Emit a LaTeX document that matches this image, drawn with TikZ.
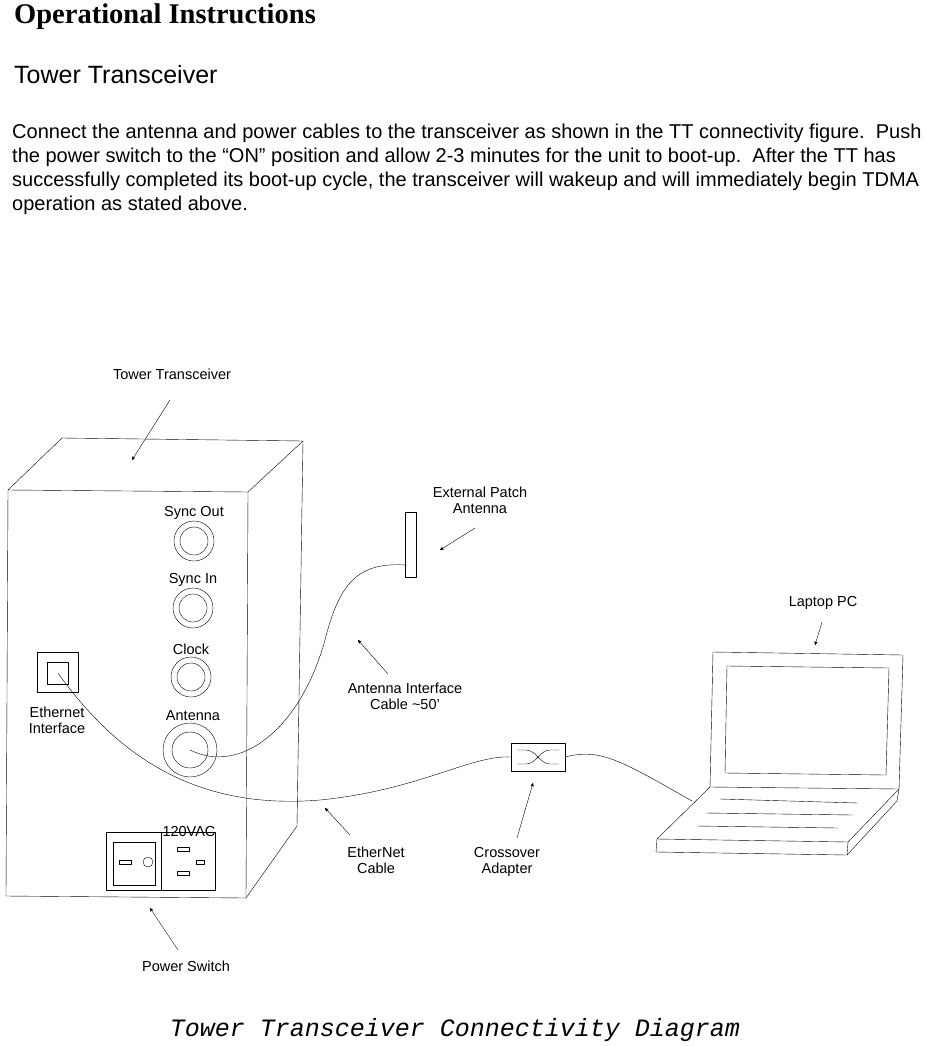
\documentclass[tikz,border=0pt]{standalone}
\usepackage{fontspec}
\setmainfont{Liberation Sans}
\newfontfamily\serifbody{Liberation Serif}
\newfontfamily\monobody{Liberation Mono}
\usetikzlibrary{positioning, arrows}
\tikzset{
>=stealth', % bold arrow heads
lbl/.style={font=\fontsize{14.5}{16}\selectfont, align=center, inner sep=1pt}, % small labels
txt/.style={font=\fontsize{20}{22}\selectfont, anchor=west, inner sep=0pt}, % body lines
pointer/.style={->, thin},
cable/.style={thin},
jack/.style={thin},
}
\begin{document}
\begin{tikzpicture}[x=1pt, y=-1pt, line join=round]
\useasboundingbox (0,0) rectangle (926,1046);
% heading and text
\node[anchor=west, inner sep=0pt, font=\serifbody\bfseries\fontsize{28.5}{30}\selectfont] (title) at (14,17) {Operational Instructions};
\node[txt, font=\fontsize{25}{27}\selectfont] (sub) at (14,75) {Tower Transceiver};
\node[txt] (l1) at (12,133) {Connect the antenna and power cables to the transceiver as shown in the TT connectivity figure.\ \ Push};
\node[txt] (l2) at (12,157) {the power switch to the ``ON'' position and allow 2-3 minutes for the unit to boot-up.\ \ After the TT has};
\node[txt] (l3) at (12,181) {successfully completed its boot-up cycle, the transceiver will wakeup and will immediately begin TDMA};
\node[txt] (l4) at (12,205) {operation as stated above.};
% tower transceiver box
\coordinate (ftl) at (8,490); \coordinate (ftr) at (248,492);
\coordinate (fbr) at (246,898); \coordinate (fbl) at (6,896);
\coordinate (btl) at (62,438); \coordinate (btr) at (303,441); \coordinate (bbr) at (297,826);
\draw (ftl) -- (ftr) -- (fbr) -- (fbl) -- cycle;
\draw (ftl) -- (btl) -- (btr) -- (ftr);
\draw (btr) -- (bbr) -- (fbr);
% connectors
\foreach \nm/\x/\y/\txt in {so/194/541/Sync Out, si/193/608/Sync In, ck/191/677/Clock}{
  \node[jack, circle, draw, minimum size=40pt, inner sep=0pt] (\nm) at (\x,\y) {};
  \node[jack, circle, draw, minimum size=28pt, inner sep=0pt] at (\x,\y) {};
  \node[lbl] at (\x,\y-28) {\txt};
}
\node[jack, circle, draw, minimum size=54pt, inner sep=0pt] (ant) at (190,750) {};
\node[jack, circle, draw, minimum size=36pt, inner sep=0pt] at (190,750) {};
\node[lbl] (antlbl) at (193,716) {Antenna};
% ethernet port
\draw (37,652) rectangle (78,692);
\draw (47,662) rectangle (68,684);
\coordinate (eth) at (58,673);
\node[lbl] (ethlbl) at (57,720) {Ethernet\\Interface};
% power entry
\draw (106,832) rectangle (215,890);
\draw (161,832) -- (161,890);
\draw (113,842) rectangle (155,885);
\draw (119,860) rectangle (131,864);
\draw (148,862) circle (5);
\draw (177,847) rectangle (189,851);
\draw (177,871) rectangle (189,875);
\draw (196,860) rectangle (204,864);
\node[lbl, anchor=south] (vac) at (189,838) {120VAC};
% patch antenna
\draw (405,512) rectangle (416,577);
\coordinate (patch) at (407,565);
\node[lbl] (patchlbl) at (480,500) {External Patch\\Antenna};
% crossover adapter
\node[draw, minimum width=54pt, minimum height=28pt, inner sep=0pt] (xo) at (538,757) {};
\draw (517,750) -- (526,750) .. controls (536,750) and (540,764) .. (550,764) -- (559,764);
\draw (517,764) -- (526,764) .. controls (536,764) and (540,750) .. (550,750) -- (559,750);
% laptop
\draw (713,652) -- (903,655) -- (899,789) -- (710,787) -- cycle;
\draw (727,666) -- (889,668) -- (886,775) -- (725,773) -- cycle;
\draw (710,787) -- (657,839) -- (848,842) -- (899,789);
\draw (657,839) -- (656,852) -- (847,855) -- (848,842);
\draw (847,855) -- (897,801) -- (899,789);
\draw (720,799) -- (858,803);
\draw (706,813) -- (853,815);
\draw (697,826) -- (838,828);
\coordinate (lap) at (692,801);
% cables
\draw[cable] (ant.center) .. controls (240,775) and (300,730) .. (325,640)
  .. controls (340,580) and (360,562) .. (patch);
\draw[cable] (eth) .. controls (120,760) and (200,810) .. (320,800)
  .. controls (420,790) and (470,755) .. (xo.west);
\draw[cable] (xo.east) .. controls (600,748) and (620,760) .. (lap);
% callouts
\node[lbl] (ttlbl) at (172,374) {Tower Transceiver};
\draw[pointer] (170,400) -- (132,460);
\draw[pointer] (475,528) -- (440,550);
\node[lbl] (aiclbl) at (405,696) {Antenna Interface\\Cable \textasciitilde50'};
\draw[pointer] (388,674) -- (358,640);
\node[lbl] (eclbl) at (376,860) {EtherNet\\Cable};
\draw[pointer] (350,835) -- (325,808);
\node[lbl] (xolbl) at (507,862) {Crossover\\Adapter};
\draw[pointer] (517,838) -- (533,783);
\node[lbl] (pslbl) at (186,966) {Power Switch};
\draw[pointer] (178,950) -- (150,908);
\node[lbl] (lplbl) at (823,603) {Laptop PC};
\draw[pointer] (822,622) -- (815,645);
% caption
\node[font=\monobody\itshape\fontsize{25}{27}\selectfont, inner sep=0pt] (cap) at (455,1030) {Tower Transceiver Connectivity Diagram};
\end{tikzpicture}
\end{document}
